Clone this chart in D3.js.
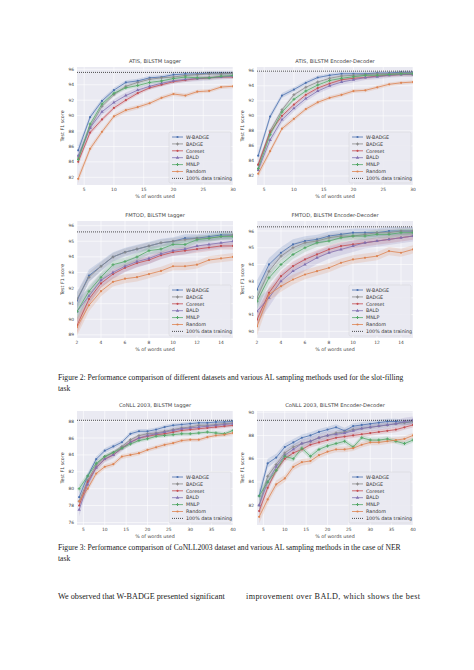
<!DOCTYPE html>
<html><head><meta charset="utf-8">
<script src="https://cdn.jsdelivr.net/npm/d3@7"></script>
<style>
body{margin:0;background:#fff;}
svg text{font-family:"DejaVu Sans",sans-serif;}
.cap{font-family:"Liberation Serif",serif;font-size:7.6px;fill:#222;}
</style></head><body>
<svg id="page" width="474" height="670"></svg>
<script>
// series and legend
var seriesNames = ["W-BADGE", "BADGE", "Coreset", "BALD", "MNLP", "Random"];
var seriesColors = ["#4c72b0", "#8c8c8c", "#c44e52", "#8172b2", "#55a868", "#dd8452"];
var seriesMarks = ["circle", "cross", "circle", "triangle", "cross", "circle"];
var bandHalf = [0.22, 0.18, 0.2, 0.3, 0.2, 0.22];
var refLabel = "100% data training";

// x values
var xAtis = [4, 6, 8, 10, 12, 14, 16, 18, 20, 22, 24, 26, 28, 30];
var xFmtod = [2, 3, 4, 5, 6, 7, 8, 9, 10, 11, 12, 13, 14, 15];
var xConll = [4, 6, 8, 10, 12, 14, 16, 18, 20, 22, 24, 26, 28, 30, 32, 34, 36, 38, 40];

// ATIS, BiLSTM tagger
var atisTagger = [
  [85.5,89.8,91.9,93.3,94.3,94.5,94.9,95.0,95.3,95.4,95.4,95.5,95.5,95.5],
  [84.5,88.5,91.2,92.7,93.8,94.3,94.7,94.9,95.0,95.2,95.3,95.4,95.4,95.5],
  [84.0,87.8,89.5,91.0,92.0,92.9,93.6,94.0,94.4,94.6,94.8,94.9,95.0,95.0],
  [84.8,88.4,90.5,91.7,92.6,93.3,93.8,94.2,94.5,94.7,94.8,94.9,95.0,95.1],
  [84.3,88.9,91.5,92.9,93.6,93.9,94.3,94.5,94.8,95.0,94.9,94.9,95.1,95.2],
  [81.8,85.7,87.9,89.9,90.7,91.1,91.6,92.3,92.8,92.6,93.1,93.2,93.7,93.8]
];
// ATIS, BiLSTM Encoder-Decoder
var atisEncDec = [
  [84.7,89.9,92.7,93.5,94.4,95.1,95.4,95.6,95.6,95.6,95.7,95.7,95.8,95.8],
  [83.5,88.0,90.8,92.8,93.8,94.5,95.0,95.3,95.4,95.5,95.6,95.6,95.7,95.7],
  [83.5,87.8,90.0,91.5,92.8,93.7,94.3,94.8,95.0,95.1,95.3,95.4,95.5,95.5],
  [82.8,86.8,89.5,91.0,92.3,93.3,94.0,94.5,94.8,95.1,95.2,95.4,95.5,95.5],
  [83.0,87.5,90.5,92.2,93.3,94.1,94.7,95.0,95.2,95.4,95.4,95.5,95.6,95.6],
  [82.3,85.3,88.3,89.6,90.9,91.8,92.4,92.8,93.3,93.4,93.8,94.2,94.4,94.5]
];
// FMTOD, BiLSTM tagger
var fmtodTagger = [
  [91.2,92.8,93.4,94.0,94.3,94.5,94.7,94.9,95.0,95.2,95.2,95.3,95.4,95.4],
  [91.3,92.7,93.4,94.0,94.3,94.5,94.7,94.9,95.0,95.1,95.2,95.2,95.3,95.4],
  [89.6,91.3,92.3,92.9,93.3,93.6,93.8,94.1,94.3,94.4,94.5,94.6,94.7,94.7],
  [90.5,91.5,92.5,93.0,93.4,93.7,93.9,94.2,94.4,94.5,94.7,94.8,94.9,95.0],
  [90.5,91.8,92.7,93.5,93.7,94.0,94.4,94.5,94.8,94.8,95.1,95.2,95.3,95.3],
  [89.5,90.9,91.8,92.4,92.6,92.7,92.9,93.1,93.4,93.4,93.5,93.8,93.9,94.0]
];
// FMTOD, BiLSTM Encoder-Decoder
var fmtodEncDec = [
  [92.5,94.0,94.7,95.2,95.4,95.5,95.7,95.8,95.9,95.9,95.9,96.0,96.0,96.0],
  [92.0,93.6,94.5,95.0,95.3,95.4,95.6,95.7,95.7,95.8,95.9,95.9,96.0,96.0],
  [90.7,92.3,93.3,93.9,94.3,94.6,94.9,95.1,95.2,95.3,95.4,95.5,95.6,95.7],
  [91.2,92.0,93.0,93.6,94.0,94.4,94.7,94.9,95.1,95.3,95.4,95.5,95.6,95.7],
  [91.8,93.2,94.0,94.6,95.0,95.3,95.4,95.6,95.7,95.7,95.8,95.8,95.9,95.9],
  [90.3,92.2,92.7,93.1,93.4,93.6,93.8,94.1,94.3,94.4,94.5,94.8,94.7,94.9]
];
// CoNLL 2003, BiLSTM tagger
var conllTagger = [
  [79.0,81.5,83.5,84.5,85.0,85.5,86.5,86.8,86.8,87.0,87.3,87.5,87.6,87.7,87.8,87.8,87.9,87.9,88.0],
  [78.5,81.0,82.8,83.8,84.3,85.0,85.8,86.3,86.5,86.6,86.8,87.0,87.2,87.3,87.5,87.5,87.6,87.7,87.8],
  [78.0,80.8,82.5,83.5,84.0,84.8,85.5,86.0,86.2,86.4,86.5,86.7,86.9,87.0,87.1,87.2,87.3,87.4,87.5],
  [77.5,80.5,82.5,83.5,84.0,84.8,85.5,86.0,86.3,86.5,86.7,86.9,87.1,87.2,87.3,87.4,87.5,87.6,87.7],
  [80.0,81.5,83.0,83.8,84.3,84.8,85.3,85.7,85.9,86.2,86.3,86.4,86.5,86.5,86.6,86.7,86.6,86.5,86.9],
  [78.5,80.0,81.8,82.6,82.9,83.8,84.0,84.2,84.6,84.9,85.2,85.4,85.7,85.8,85.8,86.1,86.3,86.4,86.6]
];
// CoNLL 2003, BiLSTM Encoder-Decoder
var conllEncDec = [
  [82.8,85.6,86.1,87.0,87.4,87.8,88.0,88.3,88.5,88.7,88.4,88.8,88.9,89.0,89.1,89.2,89.2,89.1,89.2],
  [82.0,84.5,85.5,86.5,87.0,87.3,87.5,87.8,88.0,88.2,88.3,88.5,88.6,88.7,88.8,88.9,89.0,89.1,89.2],
  [81.5,83.5,85.0,86.0,86.5,86.8,87.2,87.4,87.6,87.8,87.9,88.0,88.1,88.2,88.3,88.4,88.5,88.7,88.9],
  [82.0,84.0,85.3,86.3,86.8,87.3,87.5,87.8,88.0,88.1,88.2,88.4,88.6,88.7,88.8,88.9,89.0,89.2,89.3],
  [82.8,84.0,85.0,86.2,86.0,86.9,86.2,86.8,87.1,87.3,87.5,87.0,87.8,87.6,87.6,87.7,87.5,87.3,87.6],
  [81.0,82.5,83.8,84.3,85.3,85.7,85.8,86.3,86.6,86.8,86.8,86.9,87.2,87.4,87.4,87.5,87.6,87.7,88.0]
];

var svg = d3.select("#page");

function panel(opt) {
  var g = svg.append("g");
  var x = d3.scaleLinear().domain(opt.xd).range([opt.x0, opt.x1]);
  var y = d3.scaleLinear().domain(opt.yd).range([opt.y1, opt.y0]);
  g.append("rect").attr("x", opt.x0).attr("y", opt.y0)
    .attr("width", opt.x1 - opt.x0).attr("height", opt.y1 - opt.y0).attr("fill", "#eaeaf2");
  // grid
  opt.xt.forEach(function(t) {
    g.append("line").attr("x1", x(t)).attr("x2", x(t)).attr("y1", opt.y0).attr("y2", opt.y1)
      .attr("stroke", "#fff").attr("stroke-width", 0.6);
    g.append("text").attr("x", x(t)).attr("y", opt.y1 + 6).attr("text-anchor", "middle")
      .attr("font-size", 4.4).attr("fill", "#444").text(t);
  });
  opt.yt.forEach(function(t) {
    g.append("line").attr("x1", opt.x0).attr("x2", opt.x1).attr("y1", y(t)).attr("y2", y(t))
      .attr("stroke", "#fff").attr("stroke-width", 0.6);
    g.append("text").attr("x", opt.x0 - 3).attr("y", y(t) + 1.5).attr("text-anchor", "end")
      .attr("font-size", 4.4).attr("fill", "#444").text(t);
  });
  g.append("text").attr("x", (opt.x0 + opt.x1) / 2).attr("y", opt.y0 - 4).attr("text-anchor", "middle")
    .attr("font-size", 5.2).attr("fill", "#444").text(opt.title);
  g.append("text").attr("x", (opt.x0 + opt.x1) / 2).attr("y", opt.y1 + 13).attr("text-anchor", "middle")
    .attr("font-size", 4.8).attr("fill", "#444").text("% of words used");
  g.append("text").attr("transform", "translate(" + (opt.x0 - 13) + "," + ((opt.y0 + opt.y1) / 2) + ") rotate(-90)")
    .attr("text-anchor", "middle").attr("font-size", 4.8).attr("fill", "#444").text("Test F1 score");

  var clipId = "c" + Math.round(opt.x0) + "_" + Math.round(opt.y0);
  g.append("clipPath").attr("id", clipId).append("rect").attr("x", opt.x0).attr("y", opt.y0)
    .attr("width", opt.x1 - opt.x0).attr("height", opt.y1 - opt.y0);
  var pg = g.append("g").attr("clip-path", "url(#" + clipId + ")");

  var area = d3.area().x(function(d) { return x(d[0]); })
    .y0(function(d) { return y(d[1] - d[2]); }).y1(function(d) { return y(d[1] + d[2]); });
  var line = d3.line().x(function(d) { return x(d[0]); }).y(function(d) { return y(d[1]); });

  opt.data.forEach(function(vals, i) {
    var pts = vals.map(function(v, k) { return [opt.xs[k], v, bandHalf[i] * (1 + 1.5 / (k + 1))]; });
    pg.append("path").datum(pts).attr("d", area).attr("fill", seriesColors[i]).attr("opacity", 0.18);
  });
  opt.data.forEach(function(vals, i) {
    var pts = vals.map(function(v, k) { return [opt.xs[k], v]; });
    pg.append("path").datum(pts).attr("d", line).attr("fill", "none")
      .attr("stroke", seriesColors[i]).attr("stroke-width", 0.8);
    drawMarks(pg, pts.map(function(p) { return [x(p[0]), y(p[1])]; }), i);
  });
  pg.append("line").attr("x1", opt.x0).attr("x2", opt.x1).attr("y1", y(opt.ref)).attr("y2", y(opt.ref))
    .attr("stroke", "#222").attr("stroke-width", 0.8).attr("stroke-dasharray", "1,1");

  // legend
  var lw = 62, lh = 51, lx = opt.x1 - lw - 2, ly = opt.y1 - lh - 2;
  g.append("rect").attr("x", lx).attr("y", ly).attr("width", lw).attr("height", lh).attr("rx", 1.5)
    .attr("fill", "#eaeaf2").attr("opacity", 0.85).attr("stroke", "#ccc").attr("stroke-width", 0.4);
  seriesNames.concat([refLabel]).forEach(function(n, i) {
    var yy = ly + 5 + i * 6.9;
    if (i < 6) {
      g.append("line").attr("x1", lx + 3).attr("x2", lx + 14).attr("y1", yy).attr("y2", yy)
        .attr("stroke", seriesColors[i]).attr("stroke-width", 0.8);
      drawMarks(g, [[lx + 8.5, yy]], i);
    } else {
      g.append("line").attr("x1", lx + 3).attr("x2", lx + 14).attr("y1", yy).attr("y2", yy)
        .attr("stroke", "#222").attr("stroke-width", 0.8).attr("stroke-dasharray", "1,1");
    }
    g.append("text").attr("x", lx + 17).attr("y", yy + 1.7).attr("font-size", 4.8).attr("fill", "#333").text(n);
  });
}

function drawMarks(g, pts, i) {
  var c = seriesColors[i], m = seriesMarks[i];
  pts.forEach(function(p) {
    if (m === "circle") {
      g.append("circle").attr("cx", p[0]).attr("cy", p[1]).attr("r", 1.1).attr("fill", c);
    } else if (m === "triangle") {
      g.append("path").attr("d", d3.symbol(d3.symbolTriangle, 5)()).attr("transform", "translate(" + p[0] + "," + p[1] + ")").attr("fill", c);
    } else {
      g.append("path").attr("d", d3.symbol(d3.symbolCross, 5)()).attr("transform", "translate(" + p[0] + "," + p[1] + ")").attr("fill", c);
    }
  });
}

panel({title: "ATIS, BiLSTM tagger", x0: 77, x1: 233, y0: 67, y1: 185, xd: [3.8, 30], yd: [81, 96.3],
  xt: [5, 10, 15, 20, 25, 30], yt: [82, 84, 86, 88, 90, 92, 94, 96], xs: xAtis, data: atisTagger, ref: 95.6});
panel({title: "ATIS, BiLSTM Encoder-Decoder", x0: 257, x1: 413, y0: 67, y1: 185, xd: [3.8, 30], yd: [80.8, 96.5],
  xt: [5, 10, 15, 20, 25, 30], yt: [82, 84, 86, 88, 90, 92, 94, 96], xs: xAtis, data: atisEncDec, ref: 95.95});
panel({title: "FMTOD, BiLSTM tagger", x0: 77, x1: 233, y0: 221, y1: 338, xd: [2, 15], yd: [88.8, 96.3],
  xt: [2, 4, 6, 8, 10, 12, 14], yt: [89, 90, 91, 92, 93, 94, 95, 96], xs: xFmtod, data: fmtodTagger, ref: 95.6});
panel({title: "FMTOD, BiLSTM Encoder-Decoder", x0: 257, x1: 413, y0: 221, y1: 338, xd: [2, 15], yd: [89.6, 96.6],
  xt: [2, 4, 6, 8, 10, 12, 14], yt: [90, 91, 92, 93, 94, 95, 96], xs: xFmtod, data: fmtodEncDec, ref: 96.25});
panel({title: "CoNLL 2003, BiLSTM tagger", x0: 77, x1: 233, y0: 411, y1: 525, xd: [3.5, 40], yd: [75.7, 89.2],
  xt: [5, 10, 15, 20, 25, 30, 35, 40], yt: [76, 78, 80, 82, 84, 86, 88], xs: xConll, data: conllTagger, ref: 88.1});
panel({title: "CoNLL 2003, BiLSTM Encoder-Decoder", x0: 257, x1: 413, y0: 411, y1: 525, xd: [3.5, 40], yd: [80.3, 90.1],
  xt: [5, 10, 15, 20, 25, 30, 35, 40], yt: [82, 84, 86, 88, 90], xs: xConll, data: conllEncDec, ref: 89.3});

function cap(t, x, y) { svg.append("text").attr("class", "cap").attr("x", x).attr("y", y).text(t); }
cap("Figure 2: Performance comparison of different datasets and various AL sampling methods used for the slot-filling", 58, 380);
cap("task", 58, 391);
cap("Figure 3: Performance comparison of CoNLL2003 dataset and various AL sampling methods in the case of NER", 58, 550);
cap("task", 58, 561);
svg.append("text").attr("class", "cap").attr("x", 58).attr("y", 599).style("font-size", "8.2px")
  .text("We observed that W-BADGE presented significant");
svg.append("text").attr("class", "cap").attr("x", 420).attr("y", 599).attr("text-anchor", "end").style("font-size", "8.2px")
  .attr("textLength", 174).attr("lengthAdjust", "spacing").text("improvement over BALD, which shows the best");
</script>
</body></html>
